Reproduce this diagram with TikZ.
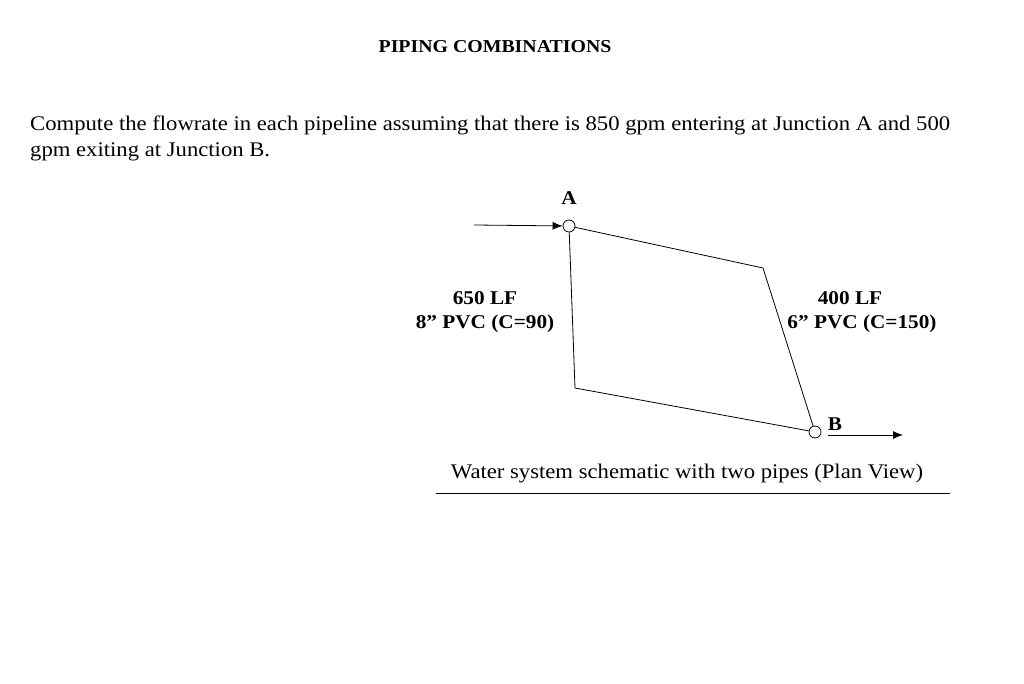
\documentclass[tikz,border=0pt]{standalone}
\usepackage{fontspec}
\usetikzlibrary{arrows.meta}
\setmainfont[FakeStretch=1.09]{Liberation Serif}
\begin{document}
\begin{tikzpicture}[x=1pt,y=-1pt,
  txt/.style={inner sep=0pt,font=\fontsize{20.8}{25}\selectfont},
  bl/.style={inner sep=0pt,font=\fontsize{19.5}{23}\selectfont\bfseries},
  pipe/.style={line width=0.8pt},
  junc/.style={circle,draw,line width=0.8pt,minimum size=12pt,inner sep=0pt},
  flow/.style={line width=0.8pt,-{Latex[length=10pt,width=8pt]}}]
\useasboundingbox (0,0) rectangle (1024,684);
\node[bl,font=\fontsize{18.2}{22}\selectfont\bfseries] (title) at (495,47) {PIPING COMBINATIONS};
\node[txt,anchor=base west] (l1) at (30,131) {Compute the flowrate in each pipeline assuming that there is 850 gpm entering at Junction A and 500};
\node[txt,anchor=base west] (l2) at (30,157) {gpm exiting at Junction B.};
\node[junc] (A) at (569,226) {};
\node[junc] (B) at (815,432) {};
\node[bl] (la) at (569,198) {A};
\node[bl] (lb) at (835,424) {B};
\coordinate (in) at (474,225);
\coordinate (o0) at (828,435);
\coordinate (out) at (903,435);
\coordinate (r) at (763,268);
\coordinate (l) at (575,388);
\draw[flow] (in) -- (A);
\draw[flow] (o0) -- (out);
\draw[pipe] (A) -- (r) -- (B);
\draw[pipe] (A) -- (l) -- (B);
\node[bl] (t1) at (485,298) {650 LF};
\node[bl] (t2) at (485,324) {8” PVC (C=90)};
\node[bl] (t3) at (850,298) {400 LF};
\node[bl] (t4) at (862,324) {6” PVC (C=150)};
\node[txt] (cap) at (687,474) {Water system schematic with two pipes (Plan View)};
\coordinate (u1) at (436,493);
\coordinate (u2) at (950,493);
\draw[line width=0.8pt] (u1) -- (u2);
\end{tikzpicture}
\end{document}
